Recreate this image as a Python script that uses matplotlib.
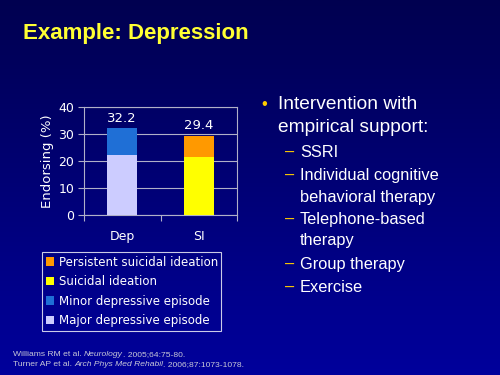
import matplotlib
matplotlib.use('Agg')
import matplotlib.pyplot as plt
import numpy as np
from matplotlib.colors import LinearSegmentedColormap
from matplotlib.patches import Patch

# Data
groups = ['Dep', 'SI']
lower = [22.2, 21.4]          # Major depressive episode / Suicidal ideation
upper = [10.0, 8.0]           # Minor depressive episode / Persistent suicidal ideation
totals = [32.2, 29.4]
lower_colors = ['#CCCCFF', '#FFFF00']
upper_colors = ['#1F6FD6', '#FF9900']
legend_labels = ['Persistent suicidal ideation', 'Suicidal ideation',
                 'Minor depressive episode', 'Major depressive episode']
legend_colors = ['#FF9900', '#FFFF00', '#1F6FD6', '#CCCCFF']
main_lines = ['Intervention with', 'empirical support:']
sub_items = [['SSRI'], ['Individual cognitive', 'behavioral therapy'],
             ['Telephone-based', 'therapy'], ['Group therapy'], ['Exercise']]
refs = [[('Williams RM et al. ', 'normal'), ('Neurology', 'italic'),
         ('. 2005;64:75-80.', 'normal')],
        [('Turner AP et al. ', 'normal'), ('Arch Phys Med Rehabil', 'italic'),
         ('. 2006;87:1073-1078.', 'normal')]]

W, H = 500, 375
fig = plt.figure(figsize=(5, 3.75), dpi=100)

def fx(px):
    return px / W

def fy(py):
    return 1 - py / H

# Background gradient
bg = fig.add_axes([0, 0, 1, 1])
cmap = LinearSegmentedColormap.from_list('slide', ['#000050', '#00009C'])
bg.imshow(np.linspace(0, 1, 256).reshape(-1, 1), aspect='auto', cmap=cmap,
          extent=[0, 1, 0, 1])
bg.set_xlim(0, 1)
bg.set_ylim(0, 1)
bg.axis('off')

# Title
fig.text(fx(23), fy(39), 'Example: Depression', color='#FFFF33', fontsize=16,
         fontweight='bold', family='Liberation Sans', va='baseline')

# Chart
ax = fig.add_axes([0.168, 0.4267, 0.306, 0.288])
ax.patch.set_alpha(0)
x = np.arange(len(groups))
w = 0.39
ax.bar(x, lower, w, color=lower_colors, zorder=3)
ax.bar(x, upper, w, bottom=lower, color=upper_colors, zorder=3)
for xi, t in zip(x, totals):
    ax.text(xi, t + 1.3, f'{t:.1f}', ha='center', va='bottom', color='white',
            fontsize=9.5)
ax.set_xlim(-0.5, 1.5)
ax.set_ylim(0, 40)
ax.set_yticks([0, 10, 20, 30, 40])
ax.yaxis.grid(True, color='#B0B0C8', linewidth=0.8, zorder=0)
ax.set_xticks([-0.5, 0.5, 1.5])
ax.set_xticklabels([])
ax.set_xticks(x, minor=True)
ax.set_xticklabels(groups, minor=True)
ax.tick_params(axis='x', which='minor', length=0, pad=11, colors='white',
               labelsize=9)
ax.tick_params(axis='x', which='major', length=4, color='#B0B0C8')
ax.tick_params(axis='y', length=4, color='#B0B0C8', labelcolor='white',
               labelsize=9, pad=3)
for s in ax.spines.values():
    s.set_color('#B0B0C8')
    s.set_linewidth(0.8)
ax.set_ylabel('Endorsing (%)', color='white', fontsize=9.5, labelpad=3)

# Legend
handles = [Patch(facecolor=c, edgecolor='none') for c in legend_colors]
leg = fig.legend(handles, legend_labels, loc='upper left',
                 bbox_to_anchor=(fx(42), fy(252)), borderaxespad=0,
                 fontsize=8.5, labelcolor='white', frameon=True,
                 handlelength=0.7, handleheight=0.7, handletextpad=0.4,
                 labelspacing=0.55, borderpad=0.3, fancybox=False)
leg.get_frame().set_facecolor('none')
leg.get_frame().set_edgecolor('white')
leg.get_frame().set_linewidth(0.8)

# Right-hand bullet text
fs_main = 13.8
fs_sub = 11.8
fig.text(fx(261), fy(109), '•', color='#FFCC00', fontsize=12,
         family='Liberation Sans', va='baseline')
for y, line in zip([109, 132], main_lines):
    fig.text(fx(278), fy(y), line, color='white', fontsize=fs_main,
             family='Liberation Sans', va='baseline')
sub_base = [[157], [180, 202], [224, 245], [269], [292]]
for ys, item in zip(sub_base, sub_items):
    fig.text(fx(285), fy(ys[0]), '–', color='#FFCC00', fontsize=fs_sub,
             family='Liberation Sans', va='baseline')
    for y, line in zip(ys, item):
        fig.text(fx(300), fy(y), line, color='white', fontsize=fs_sub,
                 family='Liberation Sans', va='baseline')

# References (plain and italic pieces placed one after another)
renderer = fig.canvas.get_renderer()
for i, parts in enumerate(refs):
    xpos = 13
    for txt, style in parts:
        t = fig.text(fx(xpos), fy(356 + 10 * i), txt, color='#C8C8D8',
                     fontsize=6.1, style=style, family='Liberation Sans',
                     va='baseline')
        xpos += t.get_window_extent(renderer=renderer).width

fig.savefig('out.png', dpi=100)
